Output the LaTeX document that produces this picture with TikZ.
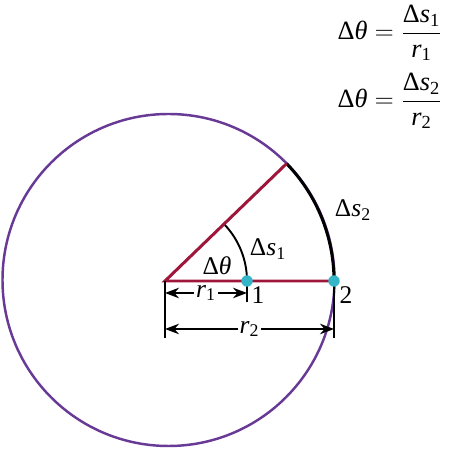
\documentclass[tikz,border=0pt]{standalone}
\usepackage{fontspec}
\setmainfont{Liberation Serif}
\usetikzlibrary{arrows.meta}
\definecolor{radred}{RGB}{158,22,58}
\definecolor{circpurple}{RGB}{104,58,150}
\definecolor{dotcyan}{RGB}{52,182,200}
\newcommand{\dth}{Δ\textit{θ}}
\newcommand{\ds}[1]{Δ\textit{s}\textsubscript{#1}}
\newcommand{\rr}[1]{\textit{r}\textsubscript{#1}}

\begin{document}
\begin{tikzpicture}[x=0.02cm, y=0.02cm,
	radline/.style={radred, line width=1.7pt},
	arcline/.style={line width=1.7pt},
	dimline/.style={line width=0.85pt},
	measure/.style={line width=0.85pt, {Stealth[length=8pt,width=6pt]}-{Stealth[length=8pt,width=6pt]}},
	dot/.style={circle, fill=dotcyan, inner sep=0pt, minimum size=6.5pt},
	lbl/.style={font=\fontsize{14.5}{16}\selectfont},
	eqn/.style={font=\fontsize{15}{18}\selectfont}]

	\useasboundingbox (0,0) rectangle (450,449);

	\coordinate (C) at (168.5,169);
	\coordinate (O) at (165,168);
	\coordinate (P1) at (247,168);
	\coordinate (P2) at (334,168);
	\coordinate (Q2) at (286.6,285.4);

	\coordinate (Ot) at (165,111);
	\coordinate (P1t) at (247,147);
	\coordinate (P2t) at (334,111);
	\coordinate (r1L) at (165,156);
	\coordinate (r1R) at (247,156);
	\coordinate (r2L) at (165,120);
	\coordinate (r2R) at (334,120);

	\draw[circpurple, line width=1.4pt] (C) circle (166);
	\draw[arcline] (P2) arc[start angle=0, end angle=44, radius=169];
	\draw[line width=1.1pt] (P1) arc[start angle=0, end angle=44, radius=82];
	\draw[radline] (P2) -- (O) -- (Q2);

	\draw[dimline] (O) -- (Ot);
	\draw[dimline] (P1) -- (P1t);
	\draw[dimline] (P2) -- (P2t);
	\draw[measure] (r1L) -- node[fill=white, inner sep=1pt, lbl] (r1) {\rr{1}} (r1R);
	\draw[measure] (r2L) -- node[fill=white, inner sep=1pt, lbl] (r2) {\rr{2}} (r2R);

	\node[dot] (d1) at (P1) {};
	\node[dot] (d2) at (P2) {};

	\node[lbl] (dth) at (217,183) {\dth};
	\node[lbl] (ds1) at (268,200) {\ds{1}};
	\node[lbl] (ds2) at (353,239) {\ds{2}};
	\node[lbl] (n1) at (258,154) {1};
	\node[lbl] (n2) at (346,154) {2};

	\node[eqn] (eqA) at (390,416) {\dth${}=\displaystyle\frac{\mbox{\ds{1}}}{\mbox{\rr{1}}}$};
	\node[eqn] (eqB) at (390,348) {\dth${}=\displaystyle\frac{\mbox{\ds{2}}}{\mbox{\rr{2}}}$};
\end{tikzpicture}
\end{document}
